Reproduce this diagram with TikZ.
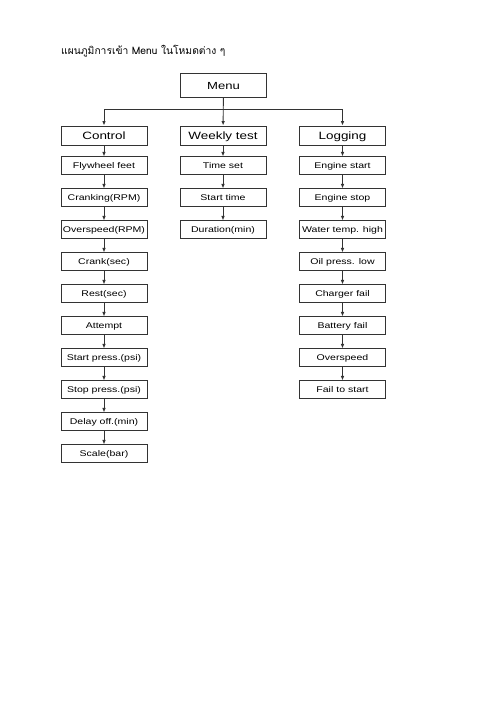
\documentclass[tikz,border=0pt]{standalone}
\usepackage{fontspec}
\usepackage{tikz}
\usetikzlibrary{positioning,arrows.meta,calc}
\setmainfont{Liberation Sans}
\newfontfamily\widesf[FakeStretch=1.27]{Liberation Sans}
\newfontfamily\thaifont[Script=Thai]{Loma}

\begin{document}
\begin{tikzpicture}[
		x=1pt, y=1pt,
		font=\widesf\fontsize{8.3}{10}\selectfont,
		box/.style={draw=black!80, line width=0.9pt, align=center, inner sep=0pt,
			text height=6.9pt, text depth=1pt,
			minimum width=86pt, minimum height=17.5pt},
		head/.style={box, minimum height=19pt, text height=8.6pt, text depth=1.4pt,
			font=\widesf\fontsize{10.6}{12}\selectfont},
		arr/.style={-{Latex[length=4.5pt,width=3.6pt]}, line width=0.9pt, draw=black!80},
		node distance=13.6pt
		]
		\useasboundingbox (0,0) rectangle (500,-708);
		\node[anchor=west, inner sep=0pt, font=\thaifont\fontsize{10.3}{12}\selectfont] (title) at (61,-51)
		{แผนภูมิการเข้า Menu ในโหมดต่าง ๆ};
		\node[box, minimum height=24pt, text height=8.4pt, text depth=1.2pt,
			font=\widesf\fontsize{10.3}{12}\selectfont] (menu) at (223.5,-85.5) {Menu};
		\node[head] (ctrl) at (104,-135.5) {Control};
		\node[head] (week) at (223,-135.5) {Weekly test};
		\node[head] (logg) at (342.5,-135.5) {Logging};
		\coordinate (bus) at ($(menu.south)+(0,-11.5)$);
		% control column
		\node[box, below=11pt of ctrl] (fly) {Flywheel feet};
		\node[box, below=of fly] (crank) {Cranking(RPM)};
		\node[box, below=of crank] (ospd) {Overspeed(RPM)};
		\node[box, below=of ospd] (cksec) {Crank(sec)};
		\node[box, below=of cksec] (rest) {Rest(sec)};
		\node[box, below=of rest] (att) {Attempt};
		\node[box, below=of att] (stp) {Start press.(psi)};
		\node[box, below=of stp] (spp) {Stop press.(psi)};
		\node[box, below=of spp] (doff) {Delay off.(min)};
		\node[box, below=of doff] (scale) {Scale(bar)};
		% weekly test column
		\node[box, below=11pt of week] (tset) {Time set};
		\node[box, below=of tset] (stime) {Start time};
		\node[box, below=of stime] (dur) {Duration(min)};
		% logging column
		\node[box, below=11pt of logg] (estart) {Engine start};
		\node[box, below=of estart] (estop) {Engine stop};
		\node[box, below=of estop] (wtemp) {Water temp. high};
		\node[box, below=of wtemp] (oil) {Oil press. low};
		\node[box, below=of oil] (chg) {Charger fail};
		\node[box, below=of chg] (batt) {Battery fail};
		\node[box, below=of batt] (lospd) {Overspeed};
		\node[box, below=of lospd] (fstart) {Fail to start};
		% menu branches
		\draw[arr] (menu) -- (week);
		\draw[arr] (bus) -| (ctrl);
		\draw[arr] (bus) -| (logg);
		\draw[arr] (ctrl) -- (fly);
		\draw[arr] (fly) -- (crank);
		\draw[arr] (crank) -- (ospd);
		\draw[arr] (ospd) -- (cksec);
		\draw[arr] (cksec) -- (rest);
		\draw[arr] (rest) -- (att);
		\draw[arr] (att) -- (stp);
		\draw[arr] (stp) -- (spp);
		\draw[arr] (spp) -- (doff);
		\draw[arr] (doff) -- (scale);
		\draw[arr] (week) -- (tset);
		\draw[arr] (tset) -- (stime);
		\draw[arr] (stime) -- (dur);
		\draw[arr] (logg) -- (estart);
		\draw[arr] (estart) -- (estop);
		\draw[arr] (estop) -- (wtemp);
		\draw[arr] (wtemp) -- (oil);
		\draw[arr] (oil) -- (chg);
		\draw[arr] (chg) -- (batt);
		\draw[arr] (batt) -- (lospd);
		\draw[arr] (lospd) -- (fstart);
	\end{tikzpicture}
\end{document}
